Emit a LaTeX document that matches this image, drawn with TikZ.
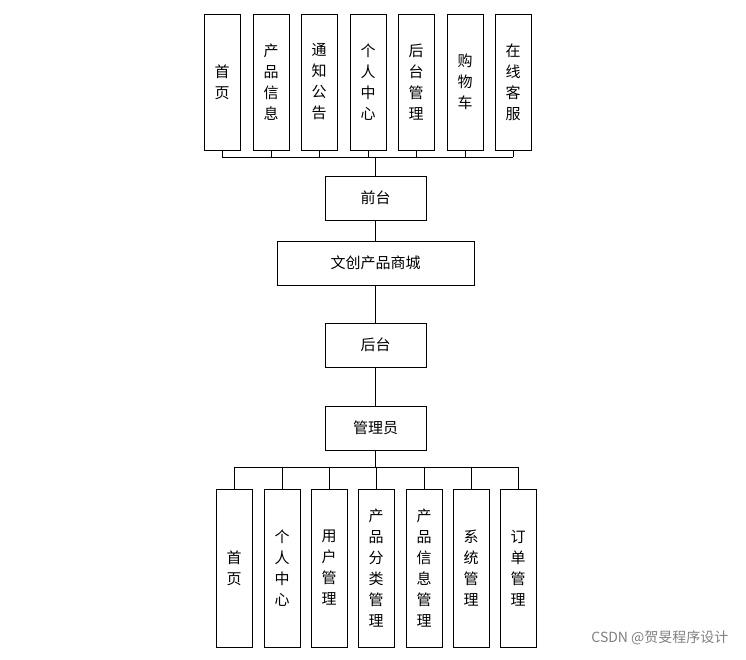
\documentclass[tikz,border=0pt]{standalone}
\usepackage{fontspec}
\setmainfont{Noto Sans CJK SC}
\begin{document}
\begin{tikzpicture}[x=1pt,y=-1pt,
  vbox/.style={draw,line width=0.8pt,minimum width=36pt,align=center,font=\fontsize{15}{21}\selectfont,inner sep=0pt},
  hbox/.style={draw,line width=0.8pt,minimum height=44pt,font=\fontsize{15}{18}\selectfont},
  ln/.style={line width=0.8pt}]
\useasboundingbox (0,0) rectangle (746,660);
\foreach \n/\x/\t in {t1/222/首\\页, t2/271/产\\品\\信\\息, t3/319/通\\知\\公\\告, t4/368/个\\人\\中\\心, t5/416/后\\台\\管\\理, t6/465/购\\物\\车, t7/513/在\\线\\客\\服}
  \node[vbox,minimum height=136pt] (\n) at (\x,82) {\t};
\foreach \n/\x/\t in {b1/234/首\\页, b2/282/个\\人\\中\\心, b3/329/用\\户\\管\\理, b4/376/产\\品\\分\\类\\管\\理, b5/424/产\\品\\信\\息\\管\\理, b6/471/系\\统\\管\\理, b7/518/订\\单\\管\\理}
  \node[vbox,minimum height=158pt] (\n) at (\x,568) {\t};
\node[hbox,minimum width=101pt] (qt) at (375.5,198) {前台};
\node[hbox,minimum width=197pt] (sc) at (375.5,263) {文创产品商城};
\node[hbox,minimum width=101pt] (ht) at (375.5,345) {后台};
\node[hbox,minimum width=101pt] (gl) at (375.5,428) {管理员};
\coordinate (tb) at (375.5,157);
\coordinate (bb) at (375.5,467);
\foreach \n in {t1,t2,t3,t4,t5,t6,t7} \draw[ln] (\n.south) -- (\n.south |- tb);
\draw[ln] (t1.south |- tb) -- (t7.south |- tb);
\draw[ln] (qt.north) -- (tb);
\draw[ln] (qt) -- (sc);
\draw[ln] (sc) -- (ht);
\draw[ln] (ht) -- (gl);
\draw[ln] (gl.south) -- (bb);
\draw[ln] (b1.north |- bb) -- (b7.north |- bb);
\foreach \n in {b1,b2,b3,b4,b5,b6,b7} \draw[ln] (\n.north |- bb) -- (\n.north);
\node[text=gray,font=\fontsize{14}{16}\selectfont,anchor=east] (wm) at (732,638) {CSDN @贺旻程序设计};
\end{tikzpicture}
\end{document}
